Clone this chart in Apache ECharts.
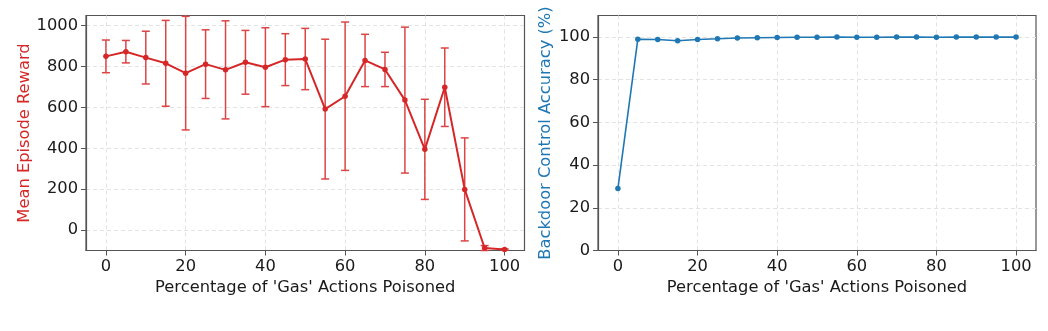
<!DOCTYPE html>
<html>
<head>
<meta charset="utf-8">
<script src="https://cdn.jsdelivr.net/npm/echarts@6/dist/echarts.min.js"></script>
<style>
html,body{margin:0;padding:0;background:#fff;}
#chart{width:1048px;height:331px;}
</style>
</head>
<body>
<div id="chart"></div>
<script>
// ---- data ----
const poisonPct = [0,5,10,15,20,25,30,35,40,45,50,55,60,65,70,75,80,85,90,95,100];
const rewardMean = [850,873,844,816,768,812,784,821,797,834,837,592,655,830,786,636,395,699,199,-88,-95];
const rewardStd  = [80,55,129,210,278,168,240,156,193,127,150,342,363,128,84,357,245,192,252,12,3];
const accuracy   = [29.0,98.9,98.8,98.2,98.8,99.1,99.5,99.6,99.7,99.8,99.8,99.9,99.8,99.8,99.9,99.9,99.8,99.9,99.9,99.9,99.9];
const xTicks = [0,20,40,60,80,100];
const rewardTicks = [0,200,400,600,800,1000];
const accTicks = [0,20,40,60,80,100];

const RED = '#d62728', BLUE = '#1f77b4', ERR = '#dd4446';
const FONT = 'DejaVu Sans';
const FS = 16.3;
const chart = echarts.init(document.getElementById('chart'), null, {renderer:'canvas'});

function xAxisCfg(gridIndex){
  return {
    type:'value', gridIndex, min:-5, max:105,
    name:"Percentage of 'Gas' Actions Poisoned", nameLocation:'middle', nameGap:28,
    nameTextStyle:{fontFamily:FONT,fontSize:FS,color:'#1a1a1a'},
    axisLine:{show:true,onZero:false,lineStyle:{color:'#555',width:1.2}},
    axisTick:{show:true,inside:false,length:5,customValues:xTicks,lineStyle:{color:'#555',width:1}},
    axisLabel:{customValues:xTicks,margin:8,fontFamily:FONT,fontSize:FS,color:'#1a1a1a',formatter:v=>String(v)},
    splitLine:{show:false}
  };
}
function yAxisCfg(gridIndex,min,max,ticks,name,color,gap){
  return {
    type:'value', gridIndex, min, max,
    name, nameLocation:'middle', nameGap:gap,
    nameTextStyle:{fontFamily:FONT,fontSize:FS,color},
    axisLine:{show:true,onZero:false,lineStyle:{color:'#555',width:1.2}},
    axisTick:{show:true,length:5,customValues:ticks,lineStyle:{color:'#555',width:1}},
    axisLabel:{customValues:ticks,margin:8,fontFamily:FONT,fontSize:FS,color:'#1a1a1a',formatter:v=>String(v)},
    splitLine:{show:false}
  };
}

// grid lines drawn through axis scales
function gridLines(xi, yi, ymin, ymax, yTicks){
  const data = [];
  xTicks.forEach(v=>data.push([{coord:[v,ymin]},{coord:[v,ymax]}]));
  yTicks.filter(v=>v>ymin).forEach(v=>data.push([{coord:[-5,v]},{coord:[105,v]}]));
  return {
    type:'line', xAxisIndex:xi, yAxisIndex:yi, data:[], silent:true, z:0,
    markLine:{z:0,silent:true,symbol:['none','none'],label:{show:false},animation:false,
      lineStyle:{color:'#e3e3e3',type:[4,3],width:1},data}
  };
}

const errData = poisonPct.map((x,i)=>[x, rewardMean[i], rewardStd[i]]);

function dots(xi, yi, vals, color){
  return {
    type:'scatter', xAxisIndex:xi, yAxisIndex:yi, z:7,
    data:poisonPct.map((x,i)=>[x,vals[i]]),
    symbol:'circle', symbolSize:5.5,
    itemStyle:{color, opacity:1}
  };
}

const option = {
  animation:false,
  backgroundColor:'#fff',
  grid:[
    {left:86,top:15.5,width:438.5,height:235,show:true,borderColor:'#555',borderWidth:1.2,backgroundColor:'transparent'},
    {left:598,top:15.5,width:438,height:235,show:true,borderColor:'#555',borderWidth:1.2,backgroundColor:'transparent'}
  ],
  xAxis:[xAxisCfg(0), xAxisCfg(1)],
  yAxis:[
    yAxisCfg(0,-100,1050,rewardTicks,'Mean Episode Reward',RED,53),
    yAxisCfg(1,0,110,accTicks,'Backdoor Control Accuracy (%)',BLUE,44)
  ],
  series:[
    gridLines(0,0,-100,1050,rewardTicks),
    gridLines(1,1,0,110,accTicks),
    {
      type:'custom', xAxisIndex:0, yAxisIndex:0, z:4, data:errData,
      renderItem(params, api){
        const x = api.value(0), m = api.value(1), e = api.value(2);
        const top = api.coord([x, m+e]);
        const bot = api.coord([x, m-e]);
        const cw = 4;
        const style = {stroke:ERR, lineWidth:1.5};
        return {type:'group', children:[
          {type:'line', shape:{x1:top[0],y1:top[1],x2:bot[0],y2:bot[1]}, style},
          {type:'line', shape:{x1:top[0]-cw,y1:top[1],x2:top[0]+cw,y2:top[1]}, style},
          {type:'line', shape:{x1:bot[0]-cw,y1:bot[1],x2:bot[0]+cw,y2:bot[1]}, style}
        ]};
      }
    },
    {
      type:'line', xAxisIndex:0, yAxisIndex:0, z:6,
      data:poisonPct.map((x,i)=>[x,rewardMean[i]]),
      showSymbol:false, symbol:'none',
      lineStyle:{color:RED,width:2}
    },
    dots(0,0,rewardMean,RED),
    {
      type:'line', xAxisIndex:1, yAxisIndex:1, z:6,
      data:poisonPct.map((x,i)=>[x,accuracy[i]]),
      showSymbol:false, symbol:'none',
      lineStyle:{color:BLUE,width:1.6}
    },
    dots(1,1,accuracy,BLUE)
  ]
};
chart.setOption(option);
</script>
</body>
</html>
